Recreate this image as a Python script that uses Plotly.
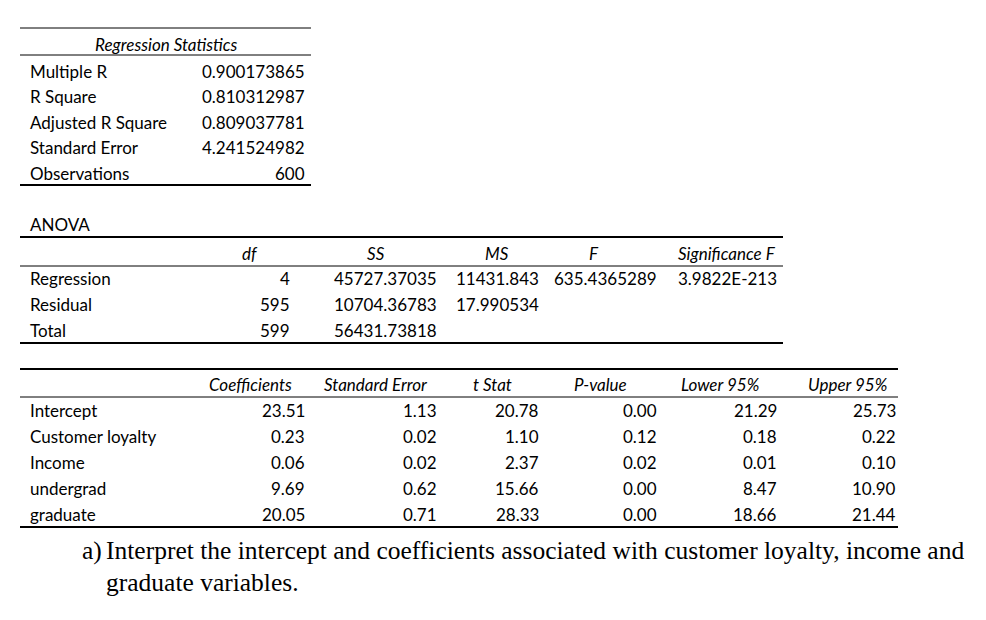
import plotly.graph_objects as go

stat_labels = ["Multiple R", "R Square", "Adjusted R Square", "Standard Error", "Observations"]
stat_values = ["0.900173865", "0.810312987", "0.809037781", "4.241524982", "600"]

anova_headers = ["df", "SS", "MS", "F", "Significance F"]
anova_rows = ["Regression", "Residual", "Total"]
anova_df = ["4", "595", "599"]
anova_ss = ["45727.37035", "10704.36783", "56431.73818"]
anova_ms = ["11431.843", "17.990534", ""]
anova_f = ["635.4365289", "", ""]
anova_sig = ["3.9822E-213", "", ""]

coef_headers = ["Coefficients", "Standard Error", "t Stat", "P-value", "Lower 95%", "Upper 95%"]
coef_rows = ["Intercept", "Customer loyalty", "Income", "undergrad", "graduate"]
coef_vals = ["23.51", "0.23", "0.06", "9.69", "20.05"]
coef_se = ["1.13", "0.02", "0.02", "0.62", "0.71"]
coef_t = ["20.78", "1.10", "2.37", "15.66", "28.33"]
coef_p = ["0.00", "0.12", "0.02", "0.00", "0.00"]
coef_lo = ["21.29", "0.18", "0.01", "8.47", "18.66"]
coef_hi = ["25.73", "0.22", "0.10", "10.90", "21.44"]

F = "Lato"
FS = 17
fig = go.Figure()
ann = []
shapes = []

def txt(x, y, s, anchor="left", italic=False, size=FS, family=F):
    if italic:
        s = "<i>" + s + "</i>"
    ann.append(dict(x=x, y=y, text=s, xanchor=anchor, yanchor="middle", showarrow=False,
                    font=dict(family=family, size=size, color="black")))

def line(x0, x1, y, w=1):
    shapes.append(dict(type="line", x0=x0, x1=x1, y0=y, y1=y, line=dict(color="black", width=w)))

# Regression statistics
line(20, 311, 28, 1)
txt(166, 44, "Regression Statistics", "center", True)
line(20, 311, 55, 1)
for i, (l, v) in enumerate(zip(stat_labels, stat_values)):
    y = 71 + i * 25.5
    txt(28, y, l)
    txt(307, y, v, "right")
line(20, 311, 185, 2)

# ANOVA
txt(28, 224, "ANOVA")
line(20, 783, 237, 2)
for x, h in zip([250, 376, 497, 594, 727], anova_headers):
    txt(x, 253, h, "center", True)
line(20, 783, 266, 1)
cols = [anova_df, anova_ss, anova_ms, anova_f, anova_sig]
xr = [292, 439, 541, 659, 779]
for i, r in enumerate(anova_rows):
    y = 278 + i * 26
    txt(28, y, r)
    for c, x in zip(cols, xr):
        if c[i]:
            txt(x, y, c[i], "right")
line(20, 783, 343, 2)

# Coefficients
line(20, 898, 369, 2)
for x, h in zip([250, 376, 492, 600, 720, 848], coef_headers):
    txt(x, 384, h, "center", True)
line(20, 898, 397, 1)
cols = [coef_vals, coef_se, coef_t, coef_p, coef_lo, coef_hi]
xr = [307, 439, 541, 659, 779, 898]
for i, r in enumerate(coef_rows):
    y = 410 + i * 26
    txt(28, y, r)
    for c, x in zip(cols, xr):
        txt(x, y, c[i], "right")
line(20, 898, 527, 2)

SF = "Liberation Serif"
txt(80, 550, "a)", size=25.5, family=SF)
txt(104, 550, "Interpret the intercept and coefficients associated with customer loyalty, income and", size=25.5, family=SF)
txt(104, 582, "graduate variables.", size=25.5, family=SF)

fig.update_layout(width=986, height=620, margin=dict(l=0, r=0, t=0, b=0),
                  paper_bgcolor="white", plot_bgcolor="white",
                  xaxis=dict(range=[8, 994], visible=False, fixedrange=True),
                  yaxis=dict(range=[628, 8], visible=False, fixedrange=True),
                  annotations=ann, shapes=shapes, showlegend=False)
fig.write_html("out.html")
